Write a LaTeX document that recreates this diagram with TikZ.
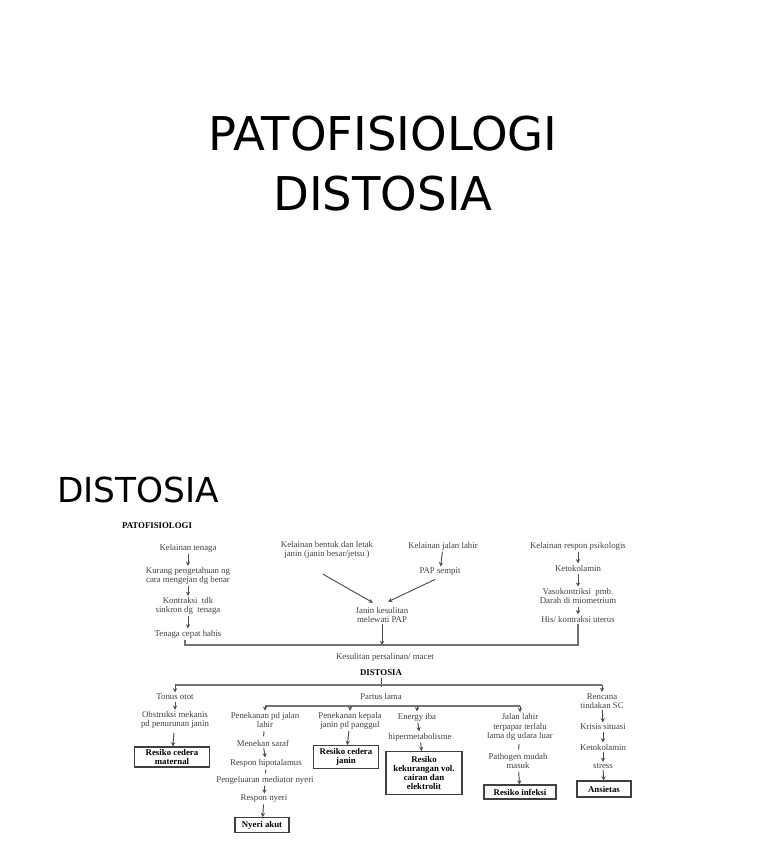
\documentclass[tikz,border=0pt]{standalone}
\usepackage{fontspec}
\setmainfont{Liberation Serif}
\newfontfamily\titlefont{DejaVu Sans}
\usetikzlibrary{arrows.meta,calc}
\begin{document}
\begin{tikzpicture}[x=0.75pt,y=-0.75pt,
  tx/.style={font=\fontsize{6.6}{6.9}\selectfont, align=center, inner sep=1pt, text=black!75},
  bx/.style={draw=black!75, line width=0.8pt, font=\fontsize{6.6}{6.9}\selectfont\bfseries, align=center, inner sep=1pt, text=black},
  ln/.style={draw=black!70, line width=0.7pt},
  arr/.style={ln, -{Stealth[length=3.2pt,width=3.2pt]}},
  hl/.style={draw=black!55, line width=0.9pt}]
\useasboundingbox (0,0) rectangle (768,866);
% titles
\node[font=\titlefont\fontsize{34.9}{42}\selectfont, anchor=base, inner sep=0] (t1) at (383,151) {PATOFISIOLOGI};
\node[font=\titlefont\fontsize{34.9}{42}\selectfont, anchor=base, inner sep=0] (t2) at (383,210) {DISTOSIA};
\node[font=\titlefont\fontsize{25.8}{30}\selectfont, anchor=base west, inner sep=0] (h) at (57,502) {DISTOSIA};
% diagram
\node[tx, text=black, font=\fontsize{6.6}{6.9}\selectfont\bfseries] (pat) at (157,526) {PATOFISIOLOGI};
\node[tx] (k1) at (188,548) {Kelainan tenaga};
\node[tx] (k2) at (188,576) {Kurang pengetahuan ng\\cara mengejan dg benar};
\node[tx] (k3) at (188,606) {Kontraksi~ tdk\\sinkron dg~ tenaga};
\node[tx] (k4) at (188,634) {Tenaga cepat habis};
\node[tx] (b1) at (327,550) {Kelainan bentuk dan letak\\janin (janin besar/jetsu )};
\node[tx] (c1) at (443,546) {Kelainan jalan lahir};
\node[tx] (c2) at (440,572) {PAP sempit};
\node[tx] (j) at (382,615) {Janin kesulitan\\melewati PAP};
\node[tx] (r1) at (578,546) {Kelainan respon psikologis};
\node[tx] (r2) at (578,568) {Ketokolamin};
\node[tx] (r3) at (578,596) {Vasokontriksi~ pmb.\\Darah di miometrium};
\node[tx] (r4) at (578,619) {His/ kontraksi uterus};
\node[tx] (ks) at (385,657) {Kesulitan persalinan/ macet};
\node[tx, text=black, font=\fontsize{6.6}{6.9}\selectfont\bfseries] (dist) at (381,673) {DISTOSIA};
\node[tx] (to1) at (175,697) {Tonus otot};
\node[tx] (to2) at (175,720) {Obstruksi mekanis\\pd penurunan janin};
\node[bx, minimum width=56pt, minimum height=15pt] (to3) at (172,757) {Resiko cedera\\maternal};
\node[tx] (pl) at (381,696) {Partus lama};
\node[tx] (rc1) at (602,701) {Rencana\\tindakan SC};
\node[tx] (rc2) at (603,727) {Krisis situasi};
\node[tx] (rc3) at (603,747) {Ketokolamin};
\node[tx] (rc4) at (603,766) {stress};
\node[bx, minimum width=40.5pt, minimum height=12pt] (rc5) at (604,789) {Ansietas};
\node[tx] (p1) at (265,720) {Penekanan pd jalan\\lahir};
\node[tx] (p2) at (263,743) {Menekan saraf};
\node[tx] (p3) at (266,763) {Respon hipotalamus};
\node[tx] (p4) at (265,780) {Pengeluaran mediator nyeri};
\node[tx] (p5) at (264,799) {Respon nyeri};
\node[bx, minimum width=40.5pt, minimum height=11pt] (p6) at (262,825) {Nyeri akut};
\node[tx] (q1) at (350,721) {Penekanan kepala\\janin pd panggul};
\node[bx, minimum width=49pt, minimum height=17pt] (q2) at (346,757) {Resiko cedera\\janin};
\node[tx] (e1) at (417,717) {Energy iba};
\node[tx] (e2) at (420,737) {hipermetabolisme};
\node[bx, minimum width=57pt, minimum height=32pt] (e3) at (424,773) {Resiko\\kekurangan vol.\\cairan dan\\elektrolit};
\node[tx] (jl1) at (520,727) {Jalan lahir\\terpapar terlalu\\lama dg udara luar};
\node[tx] (jl2) at (518,761) {Pathogen mudah\\masuk};
\node[bx, minimum width=54pt, minimum height=10.5pt] (jl3) at (520,792) {Resiko infeksi};
% coordinates of the collecting lines
\coordinate (ha) at (185,645);
\coordinate (hb) at (381,685);
\coordinate (hc) at (381,706);
% left column
\draw[arr] (k1) -- (k2);
\draw[arr] (k2) -- (k3);
\draw[arr] (k3) -- (k4);
% middle
\draw[arr] ($(b1.south)+(-4,14)$) -- ($(j.north)+(-9,-3)$);
\draw[arr] (c1) -- (c2);
\draw[arr] ($(c2.south)+(-5,2)$) -- ($(j.north)+(6,-4)$);
% right column
\draw[arr] (r1) -- (r2);
\draw[arr, shorten <=1pt] (r2) -- (r3);
\draw[arr, shorten <=1pt] (r3) -- (r4);
% collecting line
\draw[hl] (k4.south -| ha) -- (ha) -- (ha -| r4.south) -- (r4.south);
\draw[arr] (j.south) -- (j.south |- ha);
% distosia branches
\draw[ln] (dist.south) -- ($(hb)+(0,2)$);
\draw[hl] (hb -| to1.north) -- (hb -| rc1.north);
\draw[arr] (hb -| to1.north) -- (to1.north);
\draw[arr] (hb -| rc1.north) -- (rc1.north);
% tonus otot
\draw[arr] (to1) -- (to2);
\draw[arr, shorten <=2pt] (to2) -- (to3);
% partus lama branches
\draw[hl] (hc -| p1.north) -- (hc -| jl1.north);
\draw[arr] (hc -| p1.north) -- (p1.north);
\draw[arr] (hc -| q1.north) -- (q1.north);
\draw[arr] (hc -| e1.north) -- (e1.north);
\draw[arr] (hc -| jl1.north) -- (jl1.north);
% penekanan jalan lahir chain
\draw[ln, shorten <=1.5pt, shorten >=1.5pt] (p1) -- (p2);
\draw[arr] (p2) -- (p3);
\draw[ln, shorten <=1pt, shorten >=1pt] (p3) -- (p4);
\draw[arr] (p4) -- (p5);
\draw[arr] (p5) -- (p6);
% kepala janin
\draw[arr] (q1) -- (q2);
% energy
\draw[arr] (e1) -- (e2);
\draw[arr] (e2) -- (e3);
% jalan lahir
\draw[ln, shorten <=1.5pt, shorten >=1.5pt] (jl1) -- (jl2);
\draw[arr, shorten <=1pt] (jl2) -- (jl3);
% rencana SC
\draw[arr] (rc1) -- (rc2);
\draw[arr] (rc2) -- (rc3);
\draw[arr] (rc3) -- (rc4);
\draw[arr] (rc4) -- (rc5);
\end{tikzpicture}
\end{document}
